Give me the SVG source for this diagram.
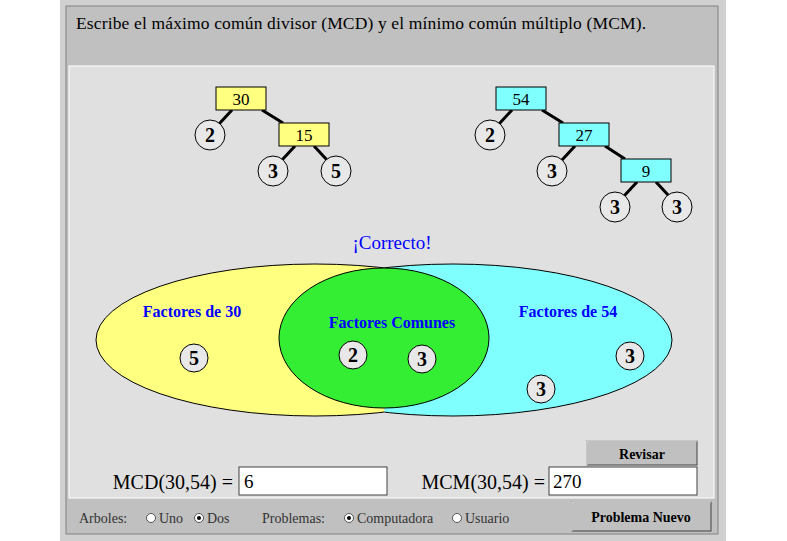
<svg xmlns="http://www.w3.org/2000/svg" width="787" height="541" viewBox="0 0 787 541">
<style>
text{font-family:"Liberation Serif",serif}
.b{fill:#ffff80;stroke:#000;stroke-width:1}
.c{fill:#80ffff;stroke:#000;stroke-width:1}
.n{font-size:17px;text-anchor:middle}
.k{fill:#e8e8e8;stroke:#000;stroke-width:1}
.kt{font-size:20px;font-weight:bold;text-anchor:middle}
.l{stroke:#000;stroke-width:3}
.lab{font-size:16px;font-weight:bold;fill:#0000ff;text-anchor:middle}
.bt{font-size:14px;font-weight:bold;text-anchor:middle}
.sm{font-size:14px;fill:#333}
</style>
<defs>
<clipPath id="cl"><rect x="0" y="0" width="384.5" height="541"/></clipPath>
<clipPath id="cr"><rect x="384.5" y="0" width="400" height="541"/></clipPath>
</defs>
<rect width="787" height="541" fill="#fff"/>
<rect x="60" y="0" width="666" height="541" fill="#d0d0d0"/>
<rect x="66" y="6" width="652" height="528" fill="#c0c0c0" stroke="#808080"/>
<rect x="69" y="66" width="645" height="432" fill="#e0e0e0" stroke="#fff"/>
<text x="76" y="29" font-size="17.5" textLength="570">Escribe el máximo común divisor (MCD) y el mínimo común múltiplo (MCM).</text>
<g id="connectors">
<line class="l" x1="232" y1="110" x2="219" y2="124"/>
<line class="l" x1="262" y1="110" x2="283" y2="123"/>
<line class="l" x1="295" y1="146" x2="282" y2="160"/>
<line class="l" x1="314" y1="146" x2="327" y2="160"/>
<line class="l" x1="512" y1="110" x2="499" y2="124"/>
<line class="l" x1="542" y1="110" x2="563" y2="123"/>
<line class="l" x1="575" y1="146" x2="562" y2="160"/>
<line class="l" x1="605" y1="146" x2="625" y2="159"/>
<line class="l" x1="637" y1="182" x2="624" y2="196"/>
<line class="l" x1="656" y1="182" x2="669" y2="196"/>
</g>
<g id="t30"><rect class="b" x="216" y="87" width="50" height="23"/><text class="n" x="241" y="105">30</text></g>
<g id="t30_2"><circle class="k" cx="210" cy="135" r="15"/><text class="kt" x="210" y="142">2</text></g>
<g id="t15"><rect class="b" x="279" y="123" width="50" height="23"/><text class="n" x="304" y="141">15</text></g>
<g id="t15_3"><circle class="k" cx="273" cy="171" r="15"/><text class="kt" x="273" y="178">3</text></g>
<g id="t15_5"><circle class="k" cx="336" cy="171" r="15"/><text class="kt" x="336" y="178">5</text></g>
<g id="t54"><rect class="c" x="496" y="87" width="50" height="23"/><text class="n" x="521" y="105">54</text></g>
<g id="t54_2"><circle class="k" cx="490" cy="135" r="15"/><text class="kt" x="490" y="142">2</text></g>
<g id="t27"><rect class="c" x="559" y="123" width="50" height="23"/><text class="n" x="584" y="141">27</text></g>
<g id="t27_3"><circle class="k" cx="552" cy="171" r="15"/><text class="kt" x="552" y="178">3</text></g>
<g id="t9"><rect class="c" x="621" y="159" width="50" height="23"/><text class="n" x="646" y="177">9</text></g>
<g id="t9_3a"><circle class="k" cx="615" cy="207" r="15"/><text class="kt" x="615" y="214">3</text></g>
<g id="t9_3b"><circle class="k" cx="677" cy="207" r="15"/><text class="kt" x="677" y="214">3</text></g>
<text x="392" y="249" font-size="19" fill="#0000ff" text-anchor="middle">¡Correcto!</text>
<g id="venn">
<ellipse cx="315" cy="340" rx="219" ry="76" fill="#ffff80" stroke="#000" clip-path="url(#cl)"/>
<ellipse cx="453" cy="340" rx="219" ry="76" fill="#80ffff" stroke="#000" clip-path="url(#cr)"/>
<ellipse cx="384" cy="338" rx="105" ry="70" fill="#33ee33" stroke="#000"/>
<text class="lab" x="192" y="317">Factores de 30</text>
<text class="lab" x="392" y="328">Factores Comunes</text>
<text class="lab" x="568" y="317">Factores de 54</text>
</g>
<g id="v5"><circle class="k" cx="194" cy="358" r="14"/><text class="kt" x="194" y="365">5</text></g>
<g id="v2"><circle class="k" cx="353" cy="355" r="14"/><text class="kt" x="353" y="362">2</text></g>
<g id="v3a"><circle class="k" cx="422" cy="359" r="14"/><text class="kt" x="422" y="366">3</text></g>
<g id="v3b"><circle class="k" cx="630" cy="356" r="14"/><text class="kt" x="630" y="363">3</text></g>
<g id="v3c"><circle class="k" cx="541" cy="389" r="14"/><text class="kt" x="541" y="396">3</text></g>
<g id="revisar"><rect x="587" y="441" width="110" height="24" fill="#c0c0c0" stroke="#404040"/><path d="M587 465V441H697" fill="none" stroke="#fff"/><text class="bt" x="642" y="459">Revisar</text></g>
<text x="233" y="489" font-size="20" text-anchor="end">MCD(30,54) =</text>
<rect x="239" y="467" width="148" height="28" fill="#fff" stroke="#404040"/>
<text x="244" y="488" font-size="19">6</text>
<text x="545" y="489" font-size="20" text-anchor="end">MCM(30,54) =</text>
<rect x="549" y="467" width="148" height="28" fill="#fff" stroke="#404040"/>
<text x="553" y="488" font-size="19">270</text>
<text class="sm" x="79" y="523">Arboles:</text>
<circle cx="151" cy="518" r="4.5" fill="#fff" stroke="#555"/><text class="sm" x="159" y="523">Uno</text>
<circle cx="199" cy="518" r="4.5" fill="#fff" stroke="#555"/><circle cx="199" cy="518" r="2" fill="#000"/><text class="sm" x="207" y="523">Dos</text>
<text class="sm" x="262" y="523">Problemas:</text>
<circle cx="349" cy="518" r="4.5" fill="#fff" stroke="#555"/><circle cx="349" cy="518" r="2" fill="#000"/><text class="sm" x="357" y="523">Computadora</text>
<circle cx="457" cy="518" r="4.5" fill="#fff" stroke="#555"/><text class="sm" x="465" y="523">Usuario</text>
<g id="nuevo"><rect x="572" y="502" width="139" height="29" fill="#c0c0c0" stroke="#404040"/><path d="M572 531V502H711" fill="none" stroke="#fff"/><text class="bt" x="641" y="522">Problema Nuevo</text></g>
</svg>
